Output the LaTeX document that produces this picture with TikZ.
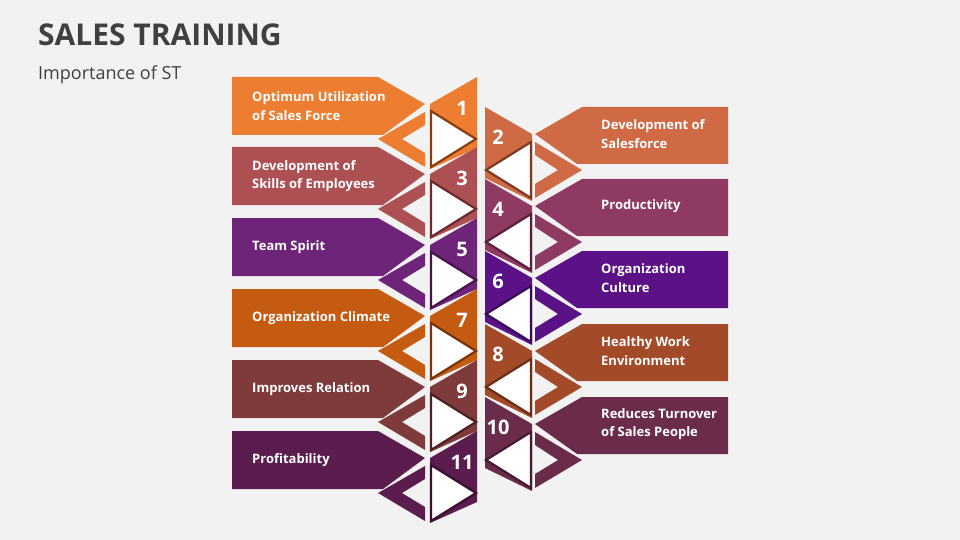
\documentclass[tikz,border=0pt]{standalone}
\usepackage{fontspec}
\setmainfont{Open Sans}
\begin{document}
\begin{tikzpicture}[x=1pt,y=-1pt,
  btxt/.style={text=white,font=\fontsize{13}{18.5}\selectfont\bfseries,align=left,anchor=west,inner sep=0pt},
  num/.style={text=white,font=\fontsize{20}{22}\selectfont\bfseries,inner sep=0pt},
  tri/.style={fill=white,line width=2.2pt,line join=miter}]
\fill[gray!10] (0,0) rectangle (960,540);
\useasboundingbox (0,0) rectangle (960,540);
\node[anchor=west,text=black!75,font=\fontsize{30}{34}\selectfont\bfseries,inner sep=0pt] (title) at (38,35) {SALES TRAINING};
\node[anchor=west,text=black!75,font=\fontsize{18}{20}\selectfont,inner sep=0pt] (sub) at (38,75) {Importance of ST};
% left items
\foreach \t/\c/\d/\n/\txt [count=\i] in {
  77/ED7D31/8B3D12/1/{Optimum Utilization\\of Sales Force},
  147/AC5054/6E2A2C/3/{Development of\\Skills of Employees},
  218/6E2479/4A1350/5/{Team Spirit},
  289/C55A11/7A330A/7/{Organization Climate},
  360/7F3B3B/4E2020/9/{Improves Relation},
  431/5B1C4E/3A0F30/11/{Profitability}}{
  \definecolor{cc}{HTML}{\c}\definecolor{dd}{HTML}{\d}
  \fill[cc] (232,\t) -- (378,\t) -- (425,\t+27) -- (383,\t+58) -- (232,\t+58) -- cycle;
  \fill[cc] (430,\t+27) -- (477,\t) -- (477,\t+71) -- (430,\t+92) -- cycle;
  \fill[cc] (378,\t+62) -- (425,\t+35) -- (425,\t+48) -- (402,\t+62) -- (425,\t+76) -- (425,\t+90) -- cycle;
  \draw[tri,draw=dd] (431,\t+34) -- (476,\t+62) -- (431,\t+90) -- cycle;
  \node[btxt] (L\i) at (252,\t+29) {\txt};
  \node[num] (N\i) at (462,\t+31) {\n};
}
% right items
\foreach \t/\c/\d/\n/\txt [count=\i] in {
  107/D06A45/7E3A20/2/{Development of\\Salesforce},
  179/8E3A63/5A1F3D/4/{Productivity},
  251/5A1286/3A0A58/6/{Organization\\Culture},
  324/A34A28/6A2E16/8/{Healthy Work\\Environment},
  397/6B2C4C/451A30/10/{Reduces Turnover\\of Sales People}}{
  \definecolor{cc}{HTML}{\c}\definecolor{dd}{HTML}{\d}
  \fill[cc] (728,\t) -- (582,\t) -- (535,\t+27) -- (577,\t+57) -- (728,\t+57) -- cycle;
  \fill[cc] (485,\t) -- (532,\t+27) -- (532,\t+94) -- (485,\t+71) -- cycle;
  \fill[cc] (582,\t+63) -- (535,\t+35) -- (535,\t+48) -- (558,\t+63) -- (535,\t+77) -- (535,\t+91) -- cycle;
  \draw[tri,draw=dd] (531,\t+35) -- (486,\t+63) -- (531,\t+91) -- cycle;
  \node[btxt] (R\i) at (601,\t+27) {\txt};
  \node[num] (M\i) at (498,\t+30) {\n};
}
\end{tikzpicture}
\end{document}
